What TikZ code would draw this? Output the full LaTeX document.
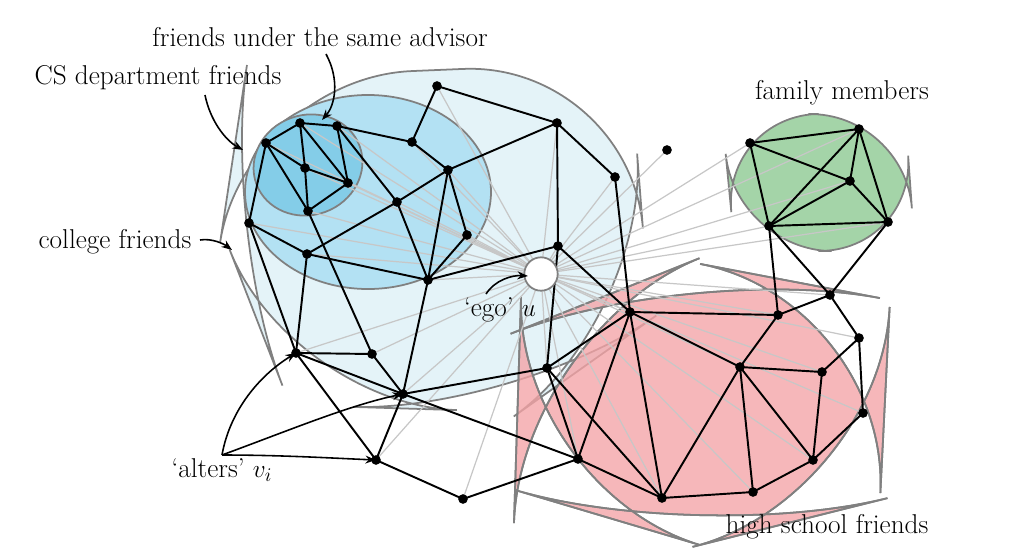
\documentclass[tikz,border=0pt]{standalone}
\usetikzlibrary{arrows.meta}
\begin{document}
\begin{tikzpicture}[x=0.02cm,y=-0.02cm,
  v/.style={circle,fill=black,inner sep=0pt,minimum size=5.5pt},
  e/.style={black,line width=1.1pt},
  g/.style={black!22,line width=0.7pt},
  blob/.style={draw=black!50,line width=1pt},
  lab/.style={font=\fontsize{15.5}{18}\selectfont},
  arr/.style={-{Stealth[length=6pt]},line width=0.9pt}]
\useasboundingbox (0,0) rectangle (1010,558);
\definecolor{colc}{HTML}{E4F3F8}
\definecolor{csc}{HTML}{B3E1F3}
\definecolor{advc}{HTML}{84CDE8}
\definecolor{famc}{HTML}{A4D4A8}
\definecolor{hsc}{HTML}{F4A3A6}
% blobs
\fill[blob,fill=colc,rounded corners=95] (222,230)--(245,78)--(630,62)--(650,320)--(520,412)--(290,405)--cycle;
\fill[blob,fill=csc] (368,192) ellipse[x radius=123,y radius=97];
\fill[blob,fill=advc,rotate around={20:(308,165)}] (308,165) ellipse[x radius=55,y radius=50];
\fill[blob,fill=famc,rounded corners=55] (722,116)--(905,112)--(915,252)--(735,250)--cycle;
\fill[blob,fill=hsc,fill opacity=0.78,rounded corners=110] (520,330)--(690,262)--(890,300)--(880,500)--(700,545)--(515,490)--cycle;
\draw[blob,rounded corners=110] (520,330)--(690,262)--(890,300)--(880,500)--(700,545)--(515,490)--cycle;
% nodes
\foreach \n/\x/\y in {a1/300/123,a2/337/126,a3/266/143,a4/305/168,a5/348/183,a6/308/211,a7/437/86,a8/412/142,a9/448/170,a10/397/202,a11/249/223,a12/467/235,a13/307/254,a14/428/280,
b1/557/123,b2/615/177,b3/667/150,b4/558/246,b5/630/312,
c2/547/368,c3/578/459,c4/662/498,c5/753/492,c6/740/367,c7/778/315,c8/830/295,c9/859/338,c10/822/372,c11/863/413,c12/813/460,
d1/296/353,d2/372/354,d3/403/394,d4/376/460,d5/463/499,
e1/750/143,e2/859/129,e3/850/181,e4/769/226,e5/888/222}
  \coordinate (\n) at (\x,\y);
\coordinate (ego) at (541,274);
\foreach \n in {a1,a2,a3,a4,a5,a6,a7,a8,a9,a10,a11,a12,a13,a14,b1,b2,b3,b4,b5,c2,c3,c4,c5,c6,c7,c8,c9,c10,c11,c12,d1,d2,d3,d4,d5,e1,e2,e3,e4,e5}
  \draw[g] (ego) -- (\n);
\foreach \a/\b in {e1/e2,e1/e3,e1/e4,e2/e4,e2/e3,e2/e5,e3/e4,e3/e5,e4/e5,e4/c8,e5/c8,e4/c7,
a1/a2,a1/a3,a1/a4,a4/a6,a1/a5,a2/a5,a3/a4,a4/a5,a3/a6,a5/a6,a2/a10,a2/a8,a3/a11,a11/a13,a11/d1,a6/d2,a13/a10,a13/a14,a13/d1,a10/a9,a10/a14,a9/a14,a9/a12,a12/a14,a9/a8,a8/a7,a7/b1,a9/b1,a14/b4,a14/d3,
b1/b4,b1/b2,b2/b5,b4/b5,b4/c2,b5/c2,b5/c3,b5/c4,b5/c6,b5/c7,c2/c3,c2/c4,c3/c4,c4/c6,c4/c5,c6/c5,c6/c12,c6/c10,c6/c7,c7/c8,c8/c9,c9/c10,c9/c11,c11/c12,c10/c12,c5/c12,
d1/d2,d1/d3,d1/d4,d2/d3,d3/d4,d4/d5,d5/c3,d3/c2,d3/c3}
  \draw[e] (\a) -- (\b);
\node[circle,draw=black!50,line width=1pt,fill=white,minimum size=19pt,inner sep=0pt] (egon) at (ego) {};
\foreach \n in {a1,a2,a3,a4,a5,a6,a7,a8,a9,a10,a11,a12,a13,a14,b1,b2,b3,b4,b5,c2,c3,c4,c5,c6,c7,c8,c9,c10,c11,c12,d1,d2,d3,d4,d5,e1,e2,e3,e4,e5}
  \node[v] at (\n) {};
% labels
\node[lab] (ladv) at (320,37) {friends under the same advisor};
\node[lab] (lcs) at (158,78) {CS department friends};
\node[lab] (lcol) at (115,242) {college friends};
\node[lab] (lfam) at (842,93) {family members};
\node[lab] (lhs) at (827,527) {high school friends};
\node[lab] (lego) at (500,310) {`ego' $u$};
\node[lab] (lalt) at (222,470) {`alters' $v_i$};
\draw[arr] (326,54) .. controls (340,80) and (335,105) .. (322,120);
\draw[arr] (205,95) .. controls (210,120) and (225,140) .. (243,150);
\draw[arr] (200,240) .. controls (212,238) and (224,244) .. (232,250);
\draw[arr] (486,294) .. controls (495,280) and (512,275) .. (528,276);
\coordinate (alt) at (222,455);
\draw[arr] (alt) .. controls (230,410) and (260,375) .. (d1);
\draw[arr] (alt) .. controls (290,430) and (350,405) .. (d3);
\draw[arr] (alt) .. controls (280,455) and (330,458) .. (d4);
\end{tikzpicture}
\end{document}
